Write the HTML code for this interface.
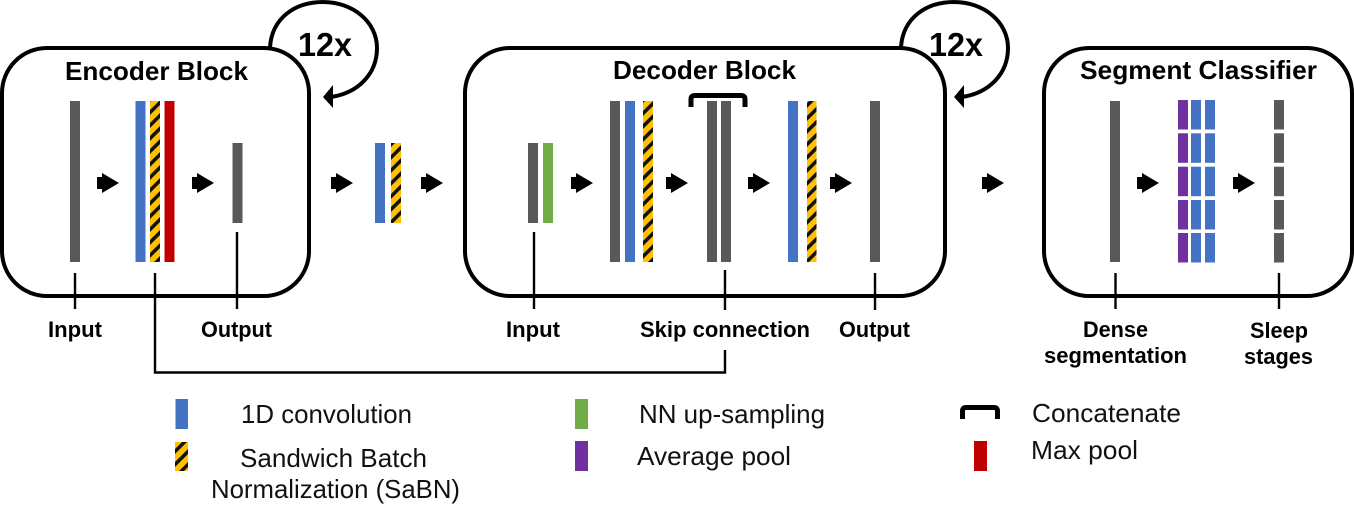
<!DOCTYPE html>
<html>
<head>
<meta charset="utf-8">
<style>
html,body{margin:0;padding:0;background:#fff;width:1354px;height:506px;overflow:hidden}
svg{display:block}
text{font-family:"Liberation Sans",sans-serif;fill:#000}
.t{font-weight:700;font-size:26px}
.x{font-weight:700;font-size:33px}
.l{font-weight:700;font-size:22px}
.g{font-size:26px;fill:#111}
.gr{fill:#595959}.bl{fill:#4472C4}.rd{fill:#C00000}.gn{fill:#70AD47}.pu{fill:#7030A0}
.box{fill:none;stroke:#000;stroke-width:4}
.tick{fill:none;stroke:#000;stroke-width:2.4}
</style>
</head>
<body>
<svg width="1354" height="506" viewBox="0 0 1354 506" xmlns="http://www.w3.org/2000/svg">
<defs>
<pattern id="h" patternUnits="userSpaceOnUse" width="13" height="13" patternTransform="skewY(-45)">
<rect width="13" height="13" fill="#FFC000"/>
<rect y="0" width="13" height="5" fill="#111"/>
</pattern>
<path id="a" d="M0 -6H5V-10L22 0L5 10V6H0Z" fill="#000"/>
<path id="loop" d="M270 47C272 18 295 2 323 2C353 2 377 22 377 48C377 74 358 93 331 97" fill="none" stroke="#000" stroke-width="4"/>
<path id="tip" d="M323 97L333 85V108Z" fill="#000"/>
</defs>

<!-- boxes -->
<rect class="box" x="2" y="48" width="307" height="248" rx="45"/>
<rect class="box" x="465" y="48" width="480" height="248" rx="45"/>
<rect class="box" x="1044" y="48" width="308" height="248" rx="45"/>

<!-- loops -->
<use href="#loop"/><use href="#tip"/>
<use href="#loop" x="631"/><use href="#tip" x="631"/>
<text class="x" x="298" y="56" textLength="54" lengthAdjust="spacingAndGlyphs">12x</text>
<text class="x" x="929" y="56" textLength="54" lengthAdjust="spacingAndGlyphs">12x</text>

<!-- titles -->
<text class="t" x="65" y="80" textLength="183" lengthAdjust="spacingAndGlyphs">Encoder Block</text>
<text class="t" x="613" y="79" textLength="183" lengthAdjust="spacingAndGlyphs">Decoder Block</text>
<text class="t" x="1080" y="79" textLength="237" lengthAdjust="spacingAndGlyphs">Segment Classifier</text>

<!-- encoder bars -->
<rect class="gr" x="70" y="101" width="10" height="161"/>
<rect class="bl" x="135.500" y="101" width="10" height="161"/>
<rect fill="url(#h)" x="150" y="101" width="10" height="161"/>
<rect class="rd" x="164.500" y="101" width="10" height="161"/>
<rect class="gr" x="232.500" y="143" width="10" height="80"/>

<!-- bottleneck -->
<rect class="bl" x="375" y="143" width="10" height="80"/>
<rect fill="url(#h)" x="391" y="143" width="10" height="80"/>

<!-- decoder bars -->
<rect class="gr" x="528" y="143" width="10" height="80"/>
<rect class="gn" x="543" y="143" width="10" height="80"/>
<rect class="gr" x="610" y="101" width="10" height="161"/>
<rect class="bl" x="625" y="101" width="10" height="161"/>
<rect fill="url(#h)" x="643" y="101" width="10" height="161"/>
<rect class="gr" x="707" y="101" width="10" height="161"/>
<rect class="gr" x="721" y="101" width="10" height="161"/>
<rect class="bl" x="788" y="101" width="10" height="161"/>
<rect fill="url(#h)" x="807" y="101" width="9.500" height="161"/>
<rect class="gr" x="870" y="101" width="10" height="161"/>
<path d="M691 107V99Q691 95.500 695 95.500H741Q745 95.500 745 99V107" fill="none" stroke="#000" stroke-width="5"/>

<!-- classifier bars -->
<rect class="gr" x="1110" y="101" width="10" height="161"/>
<g class="pu">
<rect x="1178" y="100" width="10" height="29.500"/><rect x="1178" y="133.300" width="10" height="29.500"/><rect x="1178" y="166.700" width="10" height="29.500"/><rect x="1178" y="200" width="10" height="29.500"/><rect x="1178" y="233" width="10" height="29.500"/>
</g>
<g class="bl">
<rect x="1191" y="100" width="10" height="29.500"/><rect x="1191" y="133.300" width="10" height="29.500"/><rect x="1191" y="166.700" width="10" height="29.500"/><rect x="1191" y="200" width="10" height="29.500"/><rect x="1191" y="233" width="10" height="29.500"/>
<rect x="1205" y="100" width="10" height="29.500"/><rect x="1205" y="133.300" width="10" height="29.500"/><rect x="1205" y="166.700" width="10" height="29.500"/><rect x="1205" y="200" width="10" height="29.500"/><rect x="1205" y="233" width="10" height="29.500"/>
</g>
<g class="gr">
<rect x="1274" y="100" width="10" height="29.500"/><rect x="1274" y="133.300" width="10" height="29.500"/><rect x="1274" y="166.700" width="10" height="29.500"/><rect x="1274" y="200" width="10" height="29.500"/><rect x="1274" y="233" width="10" height="29.500"/>
</g>

<!-- block arrows -->
<use href="#a" x="97" y="183"/>
<use href="#a" x="192" y="183"/>
<use href="#a" x="331" y="183"/>
<use href="#a" x="421" y="183"/>
<use href="#a" x="571" y="183"/>
<use href="#a" x="666" y="183"/>
<use href="#a" x="748" y="183"/>
<use href="#a" x="830" y="183"/>
<use href="#a" x="982" y="183"/>
<use href="#a" x="1137" y="183"/>
<use href="#a" x="1233" y="183"/>

<!-- tick lines -->
<path class="tick" d="M75 273V309"/>
<path class="tick" d="M155 273V372.500H725V350"/>
<path class="tick" d="M237 232V309"/>
<path class="tick" d="M534 232V309"/>
<path class="tick" d="M725 270V310"/>
<path class="tick" d="M875 273V310"/>
<path class="tick" d="M1115.500 273V309"/>
<path class="tick" d="M1279 273V309"/>

<!-- labels -->
<text class="l" x="48" y="337" textLength="54" lengthAdjust="spacingAndGlyphs">Input</text>
<text class="l" x="201" y="337" textLength="71" lengthAdjust="spacingAndGlyphs">Output</text>
<text class="l" x="506" y="337" textLength="54" lengthAdjust="spacingAndGlyphs">Input</text>
<text class="l" x="640" y="337" textLength="170" lengthAdjust="spacingAndGlyphs">Skip connection</text>
<text class="l" x="839" y="337" textLength="71" lengthAdjust="spacingAndGlyphs">Output</text>
<text class="l" x="1083" y="337" textLength="65" lengthAdjust="spacingAndGlyphs">Dense</text>
<text class="l" x="1044" y="363" textLength="143" lengthAdjust="spacingAndGlyphs">segmentation</text>
<text class="l" x="1250" y="338" textLength="58" lengthAdjust="spacingAndGlyphs">Sleep</text>
<text class="l" x="1244" y="364" textLength="69" lengthAdjust="spacingAndGlyphs">stages</text>

<!-- legend -->
<rect class="bl" x="175.500" y="399" width="12.500" height="30"/>
<rect fill="url(#h)" x="175" y="442" width="13" height="29"/>
<rect class="gn" x="575" y="399" width="13" height="30"/>
<rect class="pu" x="575" y="441" width="13" height="30"/>
<path d="M962.500 419V411Q962.500 407.500 966 407.500H994Q997.500 407.500 997.500 411V419" fill="none" stroke="#000" stroke-width="5"/>
<rect class="rd" x="974" y="441" width="13" height="30"/>
<text class="g" x="241" y="423" textLength="171" lengthAdjust="spacingAndGlyphs">1D convolution</text>
<text class="g" x="240" y="467" textLength="187" lengthAdjust="spacingAndGlyphs">Sandwich Batch</text>
<text class="g" x="211" y="498" textLength="249" lengthAdjust="spacingAndGlyphs">Normalization (SaBN)</text>
<text class="g" x="639" y="423" textLength="186" lengthAdjust="spacingAndGlyphs">NN up-sampling</text>
<text class="g" x="637" y="465" textLength="154" lengthAdjust="spacingAndGlyphs">Average pool</text>
<text class="g" x="1032" y="422" textLength="149" lengthAdjust="spacingAndGlyphs">Concatenate</text>
<text class="g" x="1031" y="459" textLength="107" lengthAdjust="spacingAndGlyphs">Max pool</text>
</svg>
</body>
</html>
